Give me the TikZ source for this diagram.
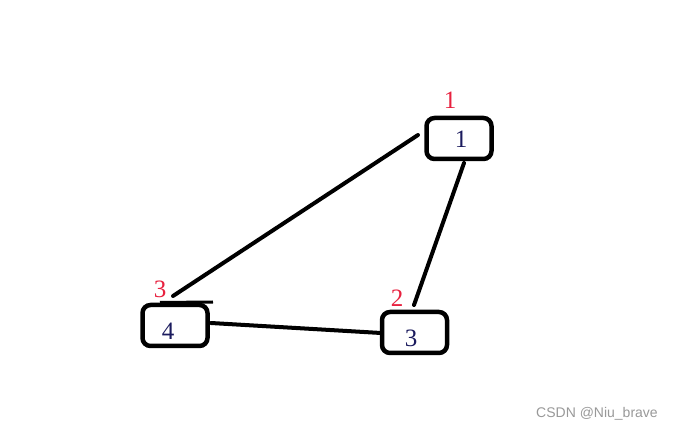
\documentclass[tikz,border=0pt]{standalone}
\usepackage{fontspec}
\setmainfont{Liberation Serif}
\newfontfamily\wmfont{Liberation Sans}
\definecolor{redlab}{HTML}{E8213F}
\definecolor{navy}{HTML}{1B1B5E}
\begin{document}
\begin{tikzpicture}[x=1pt,y=-1pt,
  box/.style={draw=black,line width=4.5pt,rounded corners=8pt,minimum width=65pt,minimum height=41pt,inner sep=0pt},
  num/.style={text=navy,font=\fontsize{25}{25}\selectfont},
  lab/.style={text=redlab,font=\fontsize{25}{25}\selectfont},
  edge/.style={line width=4pt,line cap=round}]
\useasboundingbox[fill=white] (0,0) rectangle (673,430);
\node[box] (b1) at (459,138.5) {};
\node[box] (b3) at (414.5,332.5) {};
\node[box] (b4) at (175,325.5) {};
\node[num] (t1) at (461,139) {1};
\node[num] (t3) at (411,338) {3};
\node[num] (t4) at (168,331) {4};
\node[lab] (l1) at (450,100) {1};
\node[lab] (l2) at (397,298) {2};
\node[lab] (l3) at (160,289) {3};
\coordinate (a1) at (173,296);
\coordinate (a2) at (418,135);
\coordinate (c1) at (464,163);
\coordinate (c2) at (414,305);
\coordinate (d1) at (211,323);
\coordinate (d2) at (381,333);
\coordinate (e1) at (160,302.5);
\coordinate (e2) at (213,302);
\draw[edge] (a1) -- (a2);
\draw[edge] (c1) -- (c2);
\draw[edge] (d1) -- (d2);
\draw[line width=3pt] (e1) -- (e2);
\node[text=gray!80,font=\wmfont\fontsize{14}{14}\selectfont] (wm) at (597,414) {CSDN @Niu\_brave};
\end{tikzpicture}
\end{document}
